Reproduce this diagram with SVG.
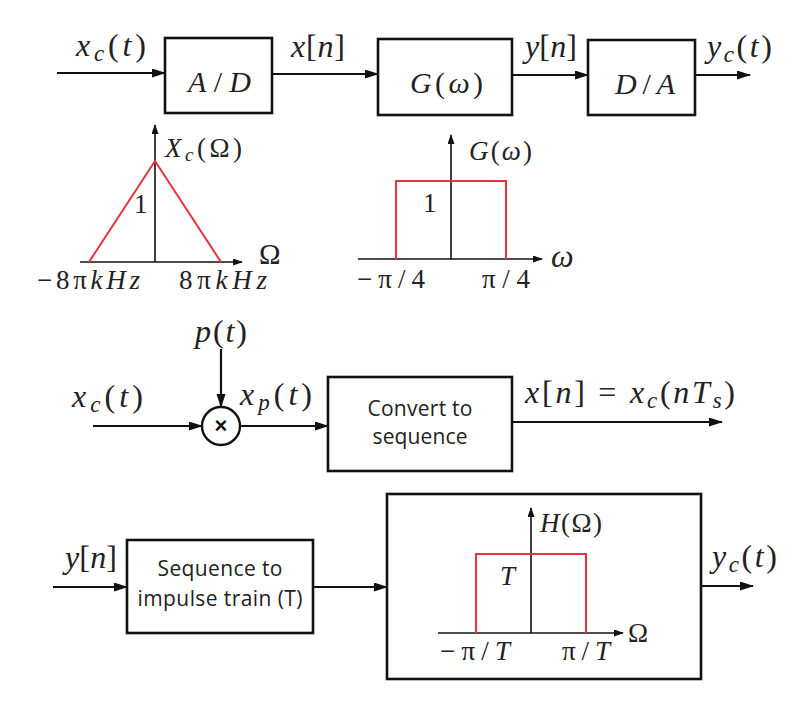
<svg xmlns="http://www.w3.org/2000/svg" width="812" height="712" viewBox="0 0 812 712">
<style>
.box{fill:none;stroke:#111;stroke-width:2.6}
.wire{fill:none;stroke:#111;stroke-width:2.2}
.axis{fill:none;stroke:#111;stroke-width:1.6}
.red{fill:none;stroke:#e8333f;stroke-width:2}
.m{font-family:"Liberation Serif","DejaVu Serif",serif;font-style:italic;fill:#222}
.r{font-family:"Liberation Serif","DejaVu Serif",serif;fill:#222}
.u{font-style:normal}
.s{font-family:"Open Sans","Liberation Sans",sans-serif;fill:#222;font-size:21px;text-anchor:middle}
</style>
<defs>
<marker id="ah" markerUnits="userSpaceOnUse" markerWidth="14" markerHeight="10" refX="13" refY="4.5" orient="auto"><path d="M0,0 L14,4.5 L0,9 z" fill="#111"/></marker>
<marker id="sh" markerUnits="userSpaceOnUse" markerWidth="10" markerHeight="8" refX="9" refY="3.5" orient="auto"><path d="M0,0 L10,3.5 L0,7 z" fill="#111"/></marker>
</defs>

<g id="connectors">
<line class="wire" x1="57" y1="73" x2="165" y2="73" marker-end="url(#ah)"/>
<line class="wire" x1="272" y1="74" x2="378" y2="74" marker-end="url(#ah)"/>
<line class="wire" x1="512" y1="75" x2="588" y2="75" marker-end="url(#ah)"/>
<line class="wire" x1="695" y1="75" x2="750" y2="75" marker-end="url(#ah)"/>
<line class="wire" x1="221" y1="349" x2="221" y2="407" marker-end="url(#ah)"/>
<line class="wire" x1="93" y1="426" x2="202" y2="426" marker-end="url(#ah)"/>
<line class="wire" x1="240" y1="426" x2="328" y2="426" marker-end="url(#ah)"/>
<line class="wire" x1="512" y1="422" x2="722" y2="422" marker-end="url(#ah)"/>
<line class="wire" x1="53" y1="587" x2="127" y2="587" marker-end="url(#ah)"/>
<line class="wire" x1="313" y1="587" x2="387" y2="587" marker-end="url(#ah)"/>
<line class="wire" x1="701" y1="586" x2="753" y2="586" marker-end="url(#ah)"/>
</g>

<g id="labels">
<text class="m" x="76" y="56" font-size="32" textLength="70" lengthAdjust="spacing">x<tspan font-size="23" dy="5">c</tspan><tspan class="u" dy="-5">(</tspan>t<tspan class="u">)</tspan></text>
<text class="m" x="291" y="57" font-size="32" textLength="54" lengthAdjust="spacing">x<tspan class="u">[</tspan>n<tspan class="u">]</tspan></text>
<text class="m" x="525" y="57" font-size="32" textLength="52" lengthAdjust="spacing">y<tspan class="u">[</tspan>n<tspan class="u">]</tspan></text>
<text class="m" x="707" y="57" font-size="32" textLength="65" lengthAdjust="spacing">y<tspan font-size="23" dy="5">c</tspan><tspan class="u" dy="-5">(</tspan>t<tspan class="u">)</tspan></text>
<text class="m" x="195" y="342" font-size="32" textLength="52" lengthAdjust="spacing">p<tspan class="u">(</tspan>t<tspan class="u">)</tspan></text>
<text class="m" x="72" y="407" font-size="32" textLength="71" lengthAdjust="spacing">x<tspan font-size="23" dy="5">c</tspan><tspan class="u" dy="-5">(</tspan>t<tspan class="u">)</tspan></text>
<text class="m" x="240" y="405" font-size="32" textLength="72" lengthAdjust="spacing">x<tspan font-size="23" dy="5">p</tspan><tspan class="u" dy="-5">(</tspan>t<tspan class="u">)</tspan></text>
<text class="m" x="525" y="403" font-size="32" textLength="210" lengthAdjust="spacing">x<tspan class="u">[</tspan>n<tspan class="u">] = </tspan>x<tspan font-size="23" dy="5">c</tspan><tspan class="u" dy="-5">(</tspan>nT<tspan font-size="23" dy="5">s</tspan><tspan class="u" dy="-5">)</tspan></text>
<text class="m" x="65" y="568" font-size="32" textLength="52" lengthAdjust="spacing">y<tspan class="u">[</tspan>n<tspan class="u">]</tspan></text>
<text class="m" x="712" y="567" font-size="32" textLength="65" lengthAdjust="spacing">y<tspan font-size="23" dy="5">c</tspan><tspan class="u" dy="-5">(</tspan>t<tspan class="u">)</tspan></text>
</g>

<g id="ad">
<rect class="box" x="165" y="38" width="107" height="75"/>
<text class="m" x="188" y="92" font-size="30" textLength="63" lengthAdjust="spacing">A<tspan class="u">/</tspan>D</text>
</g>
<g id="g">
<rect class="box" x="378" y="39" width="134" height="76"/>
<text class="m" x="410" y="93" font-size="30" textLength="73" lengthAdjust="spacing">G<tspan class="u">(</tspan>ω<tspan class="u">)</tspan></text>
</g>
<g id="da">
<rect class="box" x="588" y="40" width="107" height="75"/>
<text class="m" x="615" y="94" font-size="30" textLength="60" lengthAdjust="spacing">D<tspan class="u">/</tspan>A</text>
</g>

<g id="plot-xc">
<line class="axis" x1="155" y1="262" x2="155" y2="125" marker-end="url(#sh)"/>
<line class="axis" x1="80" y1="262" x2="242" y2="262" marker-end="url(#sh)"/>
<polyline class="red" points="89,262 155,161 221,262"/>
<text class="m" x="165" y="157" font-size="27" textLength="77" lengthAdjust="spacing">X<tspan font-size="19" dy="4">c</tspan><tspan class="u" dy="-4">(Ω)</tspan></text>
<text class="r" x="134" y="213" font-size="27">1</text>
<text class="r" x="259" y="264" font-size="29">Ω</text>
<text class="m" x="37" y="289" font-size="27" textLength="103" lengthAdjust="spacing"><tspan class="u">−8π</tspan>kHz</text>
<text class="m" x="179" y="289" font-size="27" textLength="88" lengthAdjust="spacing"><tspan class="u">8π</tspan>kHz</text>
</g>

<g id="plot-g">
<line class="axis" x1="451" y1="259" x2="451" y2="135" marker-end="url(#sh)"/>
<line class="axis" x1="358" y1="259" x2="542" y2="259" marker-end="url(#sh)"/>
<polyline class="red" points="396,259 396,181 506,181 506,259"/>
<text class="m" x="469" y="160" font-size="27" textLength="63" lengthAdjust="spacing">G<tspan class="u">(</tspan>ω<tspan class="u">)</tspan></text>
<text class="r" x="423" y="212" font-size="27">1</text>
<text class="m" x="551" y="267" font-size="32">ω</text>
<text class="r" x="357" y="288" font-size="27" textLength="68" lengthAdjust="spacing">−π/4</text>
<text class="r" x="482" y="288" font-size="27" textLength="48" lengthAdjust="spacing">π/4</text>
</g>

<g id="mult">
<circle cx="221" cy="426" r="19" fill="none" stroke="#111" stroke-width="2.4"/>
<text x="221" y="433" font-family="'Liberation Sans',sans-serif" font-weight="bold" font-size="22" text-anchor="middle" fill="#111">×</text>
</g>

<g id="convert">
<rect class="box" x="328" y="377" width="184" height="94"/>
<text class="s" x="420" y="416" textLength="105" lengthAdjust="spacing">Convert to</text>
<text class="s" x="420" y="444" textLength="95" lengthAdjust="spacing">sequence</text>
</g>

<g id="seq2imp">
<rect class="box" x="127" y="540" width="186" height="93"/>
<text class="s" x="220" y="576" textLength="125" lengthAdjust="spacing">Sequence to</text>
<text class="s" x="220" y="606" textLength="165" lengthAdjust="spacing">impulse train (T)</text>
</g>

<g id="filter">
<rect class="box" x="387" y="494" width="314" height="185"/>
<line class="axis" x1="531" y1="633" x2="531" y2="508" marker-end="url(#sh)"/>
<line class="axis" x1="438" y1="633" x2="623" y2="633" marker-end="url(#sh)"/>
<polyline class="red" points="476,633 476,554 586,554 586,633"/>
<text class="m" x="540" y="532" font-size="27" textLength="62" lengthAdjust="spacing">H<tspan class="u">(Ω)</tspan></text>
<text class="m" x="500" y="585" font-size="27">T</text>
<text class="r" x="628" y="642" font-size="27">Ω</text>
<text class="m" x="440" y="660" font-size="27" textLength="70" lengthAdjust="spacing"><tspan class="u">−π/</tspan>T</text>
<text class="m" x="562" y="660" font-size="27" textLength="48" lengthAdjust="spacing"><tspan class="u">π/</tspan>T</text>
</g>
</svg>
